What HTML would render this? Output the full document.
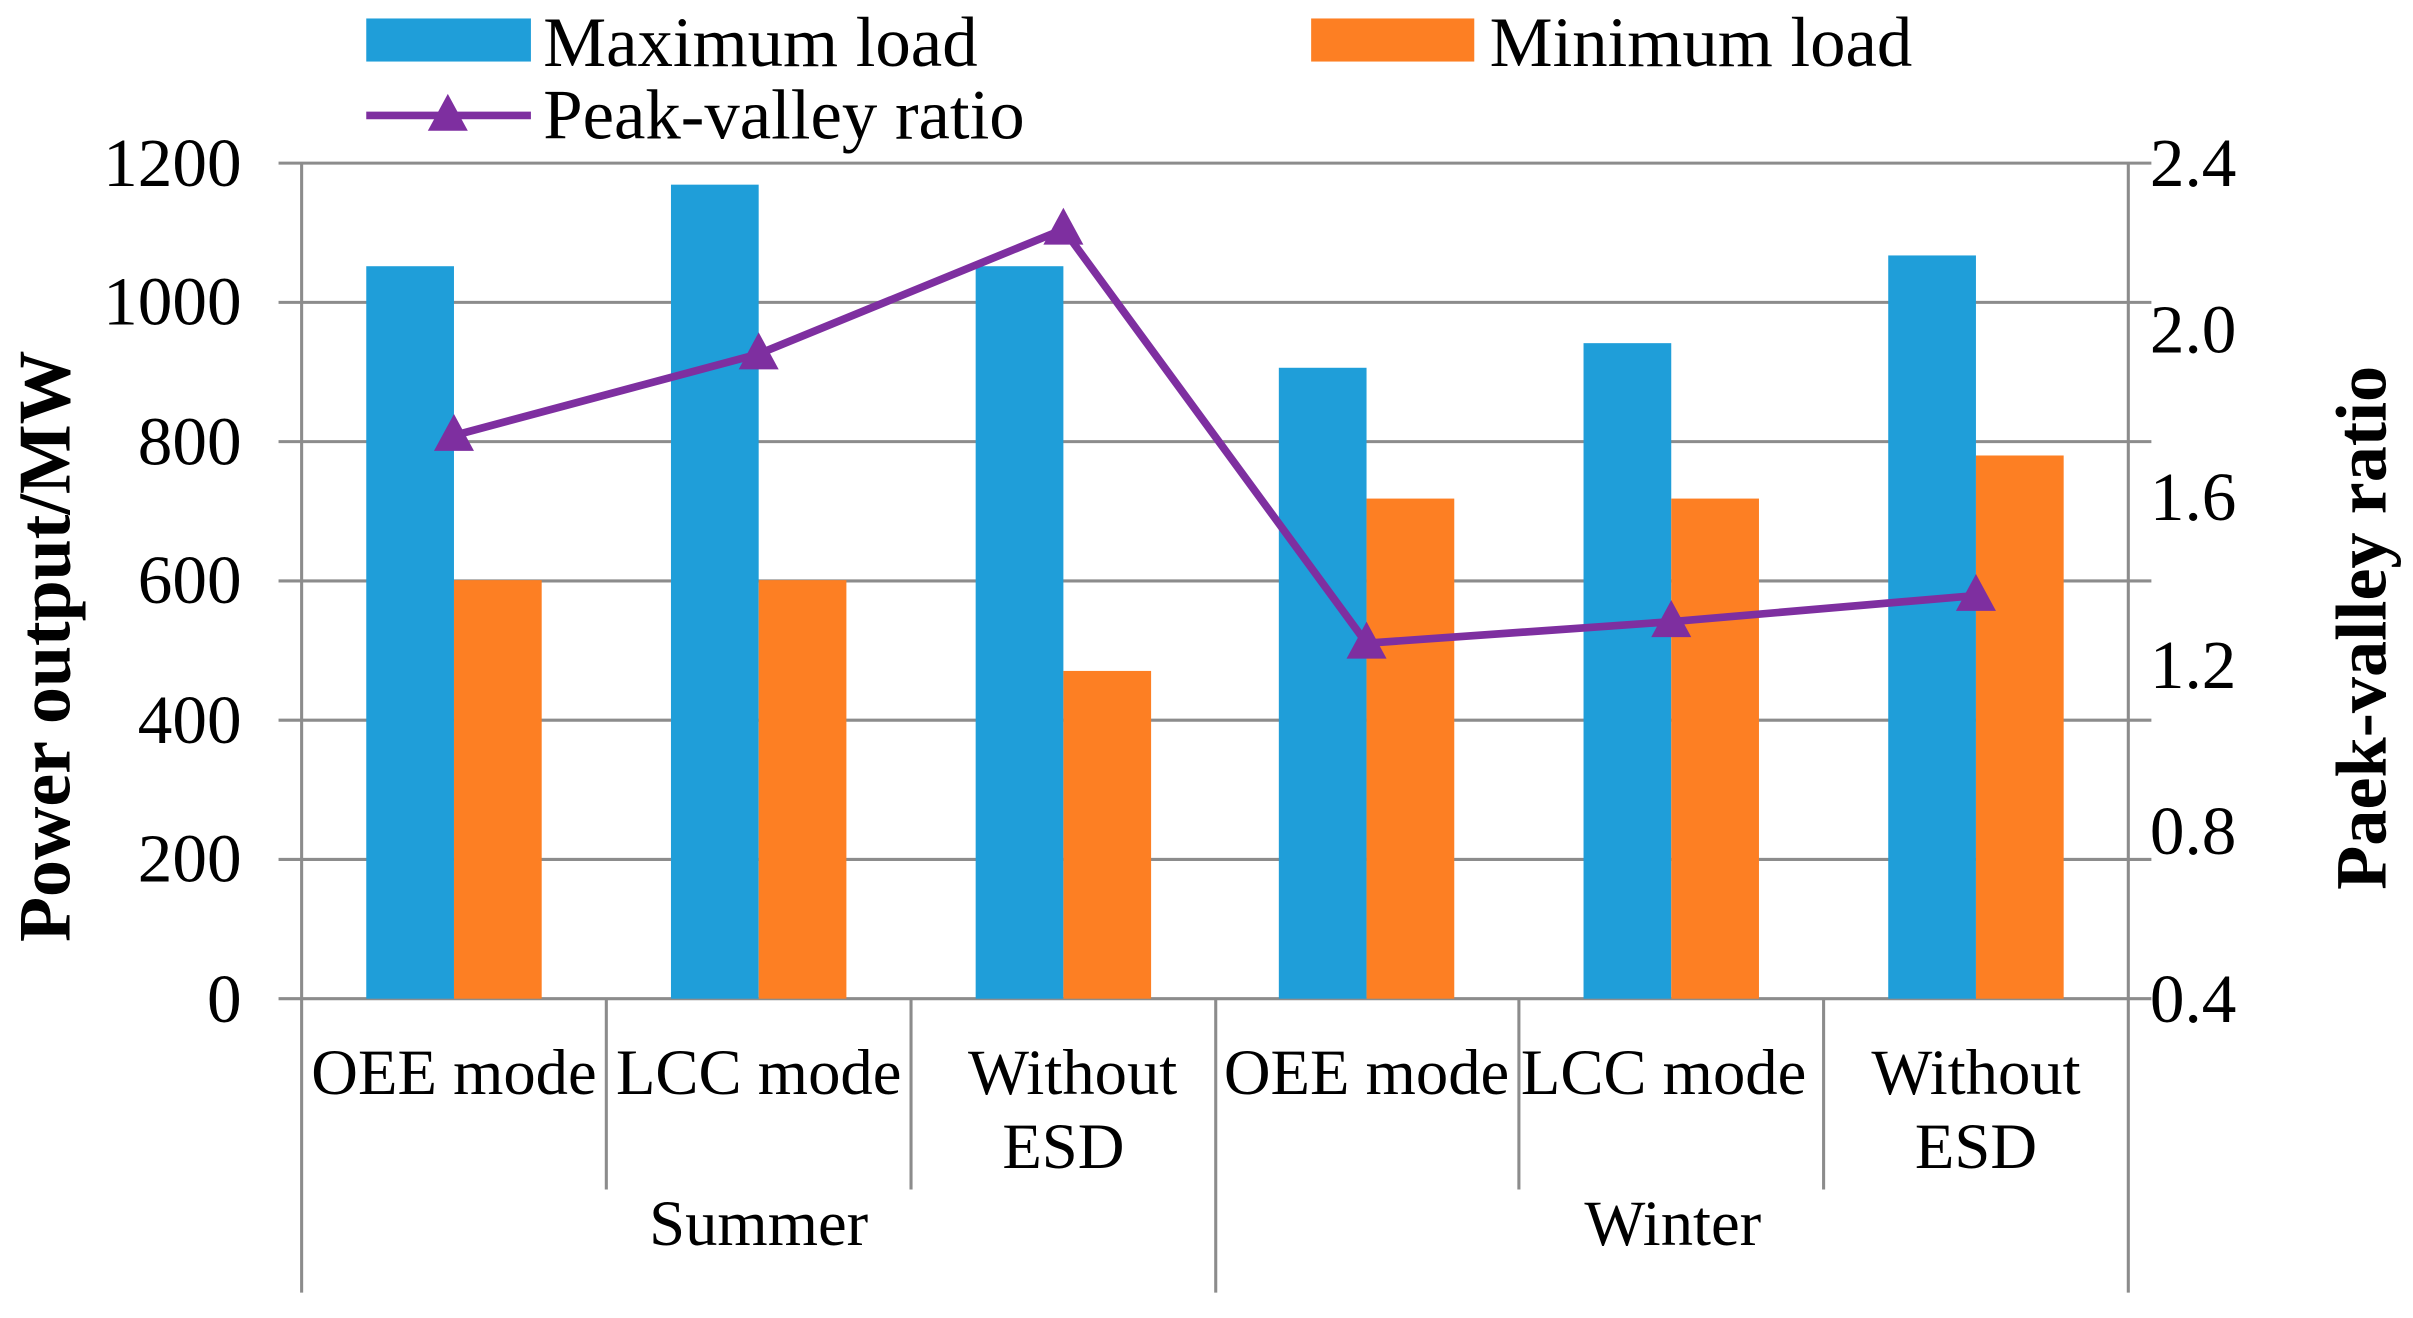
<!DOCTYPE html>
<html><head><meta charset="utf-8"><style>
html,body{margin:0;padding:0;background:#fff;}
svg{display:block;}
text{font-family:"Liberation Serif",serif;fill:#000;}
</style></head><body>
<svg width="2413" height="1318" viewBox="0 0 1568 856.5" preserveAspectRatio="none" xmlns="http://www.w3.org/2000/svg">
<g stroke="#8c8c8c" stroke-width="2">
<line x1="181" y1="106" x2="1398" y2="106"/>
<line x1="181" y1="196.5" x2="1398" y2="196.5"/>
<line x1="181" y1="287" x2="1398" y2="287"/>
<line x1="181" y1="377.5" x2="1398" y2="377.5"/>
<line x1="181" y1="468" x2="1398" y2="468"/>
<line x1="181" y1="558.5" x2="1398" y2="558.5"/>
<line x1="181" y1="649" x2="1398" y2="649"/>
<line x1="196" y1="106" x2="196" y2="840"/>
<line x1="1383" y1="106" x2="1383" y2="840"/>
<line x1="790" y1="649" x2="790" y2="840"/>
<line x1="394" y1="649" x2="394" y2="773"/>
<line x1="592" y1="649" x2="592" y2="773"/>
<line x1="987" y1="649" x2="987" y2="773"/>
<line x1="1185" y1="649" x2="1185" y2="773"/>
</g>
<g fill="#1f9ed9">
<rect x="238" y="173" width="57" height="476"/>
<rect x="436" y="120" width="57" height="529"/>
<rect x="634" y="173" width="57" height="476"/>
<rect x="831" y="239" width="57" height="410"/>
<rect x="1029" y="223" width="57" height="426"/>
<rect x="1227" y="166" width="57" height="483"/>
</g>
<g fill="#fd7f23">
<rect x="295" y="377" width="57" height="272"/>
<rect x="493" y="377" width="57" height="272"/>
<rect x="691" y="436" width="57" height="213"/>
<rect x="888" y="324" width="57" height="325"/>
<rect x="1086" y="324" width="57" height="325"/>
<rect x="1284" y="296" width="57" height="353"/>
</g>
<polyline fill="none" stroke="#7e2fa0" stroke-width="5" points="295,283 493,230 691,149 888,418 1086,404 1284,387"/>
<g fill="#7e2fa0">
<polygon points="295,269 282,293 308,293"/>
<polygon points="493,216 480,240 506,240"/>
<polygon points="691,135 678,159 704,159"/>
<polygon points="888,404 875,428 901,428"/>
<polygon points="1086,390 1073,414 1099,414"/>
<polygon points="1284,373 1271,397 1297,397"/>
</g>
<g font-size="45" text-anchor="end">
<text x="157" y="121">1200</text>
<text x="157" y="211">1000</text>
<text x="157" y="302">800</text>
<text x="157" y="392">600</text>
<text x="157" y="483">400</text>
<text x="157" y="573">200</text>
<text x="157" y="664">0</text>
</g>
<g font-size="45" text-anchor="start">
<text x="1397" y="121">2.4</text>
<text x="1397" y="229">2.0</text>
<text x="1397" y="338">1.6</text>
<text x="1397" y="447">1.2</text>
<text x="1397" y="555">0.8</text>
<text x="1397" y="664">0.4</text>
</g>
<g font-size="42" text-anchor="middle">
<text x="295" y="711">OEE mode</text>
<text x="493" y="711">LCC mode</text>
<text x="697" y="711">Without</text>
<text x="691" y="759">ESD</text>
<text x="888" y="711">OEE mode</text>
<text x="1081" y="711">LCC mode</text>
<text x="1284" y="711">Without</text>
<text x="1284" y="759">ESD</text>
<text x="493" y="809">Summer</text>
<text x="1087" y="809">Winter</text>
</g>
<text font-size="48" font-weight="bold" text-anchor="middle" transform="translate(45,420) rotate(-90)">Power output/MW</text>
<text font-size="47" font-weight="bold" text-anchor="middle" transform="translate(1550,408) rotate(-90)">Paek-valley ratio</text>
<rect x="238" y="12" width="107" height="28" fill="#1f9ed9"/>
<text x="353" y="43" font-size="46">Maximum load</text>
<rect x="852" y="12" width="106" height="28" fill="#fd7f23"/>
<text x="968" y="43" font-size="46">Minimum load</text>
<line x1="238" y1="75" x2="345" y2="75" stroke="#7e2fa0" stroke-width="5"/>
<polygon points="291,61 278,85 304,85" fill="#7e2fa0"/>
<text x="353" y="90" font-size="46">Peak-valley ratio</text>
</svg>
</body></html>
